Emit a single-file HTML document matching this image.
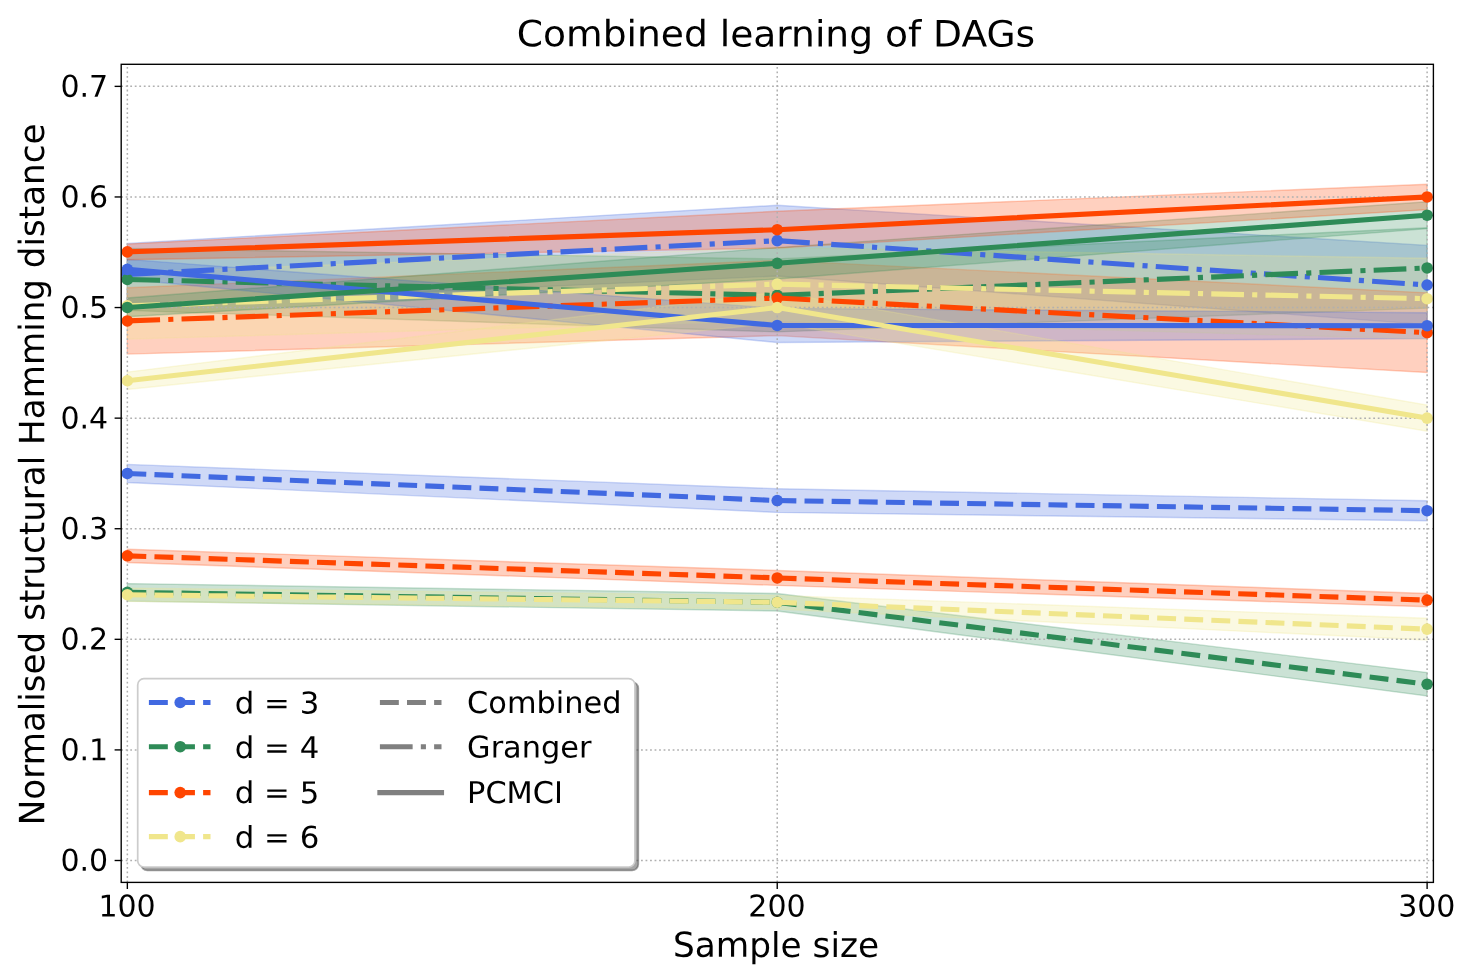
<!DOCTYPE html>
<html lang="en"><head><meta charset="utf-8"><title>Combined learning of DAGs</title>
<style>html,body{margin:0;padding:0;background:#fff;}body{width:1476px;height:976px;overflow:hidden;}svg{display:block;}text{font-family:"DejaVu Sans","Liberation Sans",sans-serif;fill:#000;}</style></head><body>
<svg width="1476" height="976" viewBox="0 0 1476 976">
<rect width="1476" height="976" fill="#fff"/>
<defs><clipPath id="ax"><rect x="121.2" y="64.3" width="1312.20" height="818.10"/></clipPath></defs>
<g clip-path="url(#ax)">
<polygon points="127.3,464.4 777.2,488.7 1427.1,500.8 1427.1,520.7 777.2,512.4 127.3,482.5" fill="#4169e1" fill-opacity="0.25" stroke="#4169e1" stroke-opacity="0.25" stroke-width="1.4" stroke-linejoin="miter"/>
<polygon points="127.3,583.6 777.2,593.5 1427.1,672.5 1427.1,695.9 777.2,611.0 127.3,601.1" fill="#2e8b57" fill-opacity="0.25" stroke="#2e8b57" stroke-opacity="0.25" stroke-width="1.4" stroke-linejoin="miter"/>
<polygon points="127.3,549.2 777.2,570.5 1427.1,593.5 1427.1,606.8 777.2,585.4 127.3,562.5" fill="#ff4500" fill-opacity="0.25" stroke="#ff4500" stroke-opacity="0.25" stroke-width="1.4" stroke-linejoin="miter"/>
<polygon points="127.3,588.1 777.2,595.4 1427.1,618.3 1427.1,640.0 777.2,609.1 127.3,601.4" fill="#f0e68c" fill-opacity="0.25" stroke="#f0e68c" stroke-opacity="0.25" stroke-width="1.4" stroke-linejoin="miter"/>
<polygon points="127.3,243.4 777.2,205.3 1427.1,245.4 1427.1,324.6 777.2,276.0 127.3,305.3" fill="#4169e1" fill-opacity="0.25" stroke="#4169e1" stroke-opacity="0.25" stroke-width="1.4" stroke-linejoin="miter"/>
<polygon points="127.3,248.5 777.2,258.9 1427.1,227.8 1427.1,308.1 777.2,331.9 127.3,310.4" fill="#2e8b57" fill-opacity="0.25" stroke="#2e8b57" stroke-opacity="0.25" stroke-width="1.4" stroke-linejoin="miter"/>
<polygon points="127.3,287.8 777.2,260.4 1427.1,292.8 1427.1,372.5 777.2,335.6 127.3,354.1" fill="#ff4500" fill-opacity="0.25" stroke="#ff4500" stroke-opacity="0.25" stroke-width="1.4" stroke-linejoin="miter"/>
<polygon points="127.3,272.7 777.2,247.6 1427.1,258.3 1427.1,339.1 777.2,320.6 127.3,339.1" fill="#f0e68c" fill-opacity="0.25" stroke="#f0e68c" stroke-opacity="0.25" stroke-width="1.4" stroke-linejoin="miter"/>
<polygon points="127.3,259.4 777.2,308.4 1427.1,312.7 1427.1,338.6 777.2,342.5 127.3,279.3" fill="#4169e1" fill-opacity="0.25" stroke="#4169e1" stroke-opacity="0.25" stroke-width="1.4" stroke-linejoin="miter"/>
<polygon points="127.3,298.0 777.2,247.6 1427.1,201.7 1427.1,228.7 777.2,279.0 127.3,316.8" fill="#2e8b57" fill-opacity="0.25" stroke="#2e8b57" stroke-opacity="0.25" stroke-width="1.4" stroke-linejoin="miter"/>
<polygon points="127.3,244.1 777.2,211.3 1427.1,184.2 1427.1,209.7 777.2,248.1 127.3,259.8" fill="#ff4500" fill-opacity="0.25" stroke="#ff4500" stroke-opacity="0.25" stroke-width="1.4" stroke-linejoin="miter"/>
<polygon points="127.3,372.1 777.2,292.1 1427.1,405.1 1427.1,431.2 777.2,323.0 127.3,389.4" fill="#f0e68c" fill-opacity="0.25" stroke="#f0e68c" stroke-opacity="0.25" stroke-width="1.4" stroke-linejoin="miter"/>
</g>
<g stroke="#b0b0b0" stroke-width="1.5" stroke-dasharray="1.8 2.72" fill="none">
<path d="M127.35 882.4V64.3"/>
<path d="M777.23 882.4V64.3"/>
<path d="M1427.11 882.4V64.3"/>
<path d="M121.2 860.50H1433.4"/>
<path d="M121.2 749.91H1433.4"/>
<path d="M121.2 639.32H1433.4"/>
<path d="M121.2 528.73H1433.4"/>
<path d="M121.2 418.14H1433.4"/>
<path d="M121.2 307.55H1433.4"/>
<path d="M121.2 196.96H1433.4"/>
<path d="M121.2 86.37H1433.4"/>
</g>
<g clip-path="url(#ax)" fill="none">
<path d="M127.35 473.44 L777.23 500.53 L1427.11 510.70" stroke="#4169e1" stroke-width="5.13" stroke-linejoin="round" stroke-dasharray="18.926 8.184" stroke-linecap="butt"/>
<circle cx="127.35" cy="473.44" r="5.8" fill="#4169e1"/>
<circle cx="777.23" cy="500.53" r="5.8" fill="#4169e1"/>
<circle cx="1427.11" cy="510.70" r="5.8" fill="#4169e1"/>
<path d="M127.35 592.32 L777.23 602.27 L1427.11 684.22" stroke="#2e8b57" stroke-width="5.13" stroke-linejoin="round" stroke-dasharray="18.926 8.184" stroke-linecap="butt"/>
<circle cx="127.35" cy="592.32" r="5.8" fill="#2e8b57"/>
<circle cx="777.23" cy="602.27" r="5.8" fill="#2e8b57"/>
<circle cx="1427.11" cy="684.22" r="5.8" fill="#2e8b57"/>
<path d="M127.35 555.82 L777.23 577.94 L1427.11 600.17" stroke="#ff4500" stroke-width="5.13" stroke-linejoin="round" stroke-dasharray="18.926 8.184" stroke-linecap="butt"/>
<circle cx="127.35" cy="555.82" r="5.8" fill="#ff4500"/>
<circle cx="777.23" cy="577.94" r="5.8" fill="#ff4500"/>
<circle cx="1427.11" cy="600.17" r="5.8" fill="#ff4500"/>
<path d="M127.35 594.75 L777.23 602.27 L1427.11 629.15" stroke="#f0e68c" stroke-width="5.13" stroke-linejoin="round" stroke-dasharray="18.926 8.184" stroke-linecap="butt"/>
<circle cx="127.35" cy="594.75" r="5.8" fill="#f0e68c"/>
<circle cx="777.23" cy="602.27" r="5.8" fill="#f0e68c"/>
<circle cx="1427.11" cy="629.15" r="5.8" fill="#f0e68c"/>
<path d="M127.35 274.37 L777.23 240.64 L1427.11 284.99" stroke="#4169e1" stroke-width="5.13" stroke-linejoin="round" stroke-dasharray="32.736 8.184 5.115 8.184" stroke-linecap="butt"/>
<circle cx="127.35" cy="274.37" r="5.8" fill="#4169e1"/>
<circle cx="777.23" cy="240.64" r="5.8" fill="#4169e1"/>
<circle cx="1427.11" cy="284.99" r="5.8" fill="#4169e1"/>
<path d="M127.35 279.46 L777.23 295.39 L1427.11 267.96" stroke="#2e8b57" stroke-width="5.13" stroke-linejoin="round" stroke-dasharray="32.736 8.184 5.115 8.184" stroke-linecap="butt"/>
<circle cx="127.35" cy="279.46" r="5.8" fill="#2e8b57"/>
<circle cx="777.23" cy="295.39" r="5.8" fill="#2e8b57"/>
<circle cx="1427.11" cy="267.96" r="5.8" fill="#2e8b57"/>
<path d="M127.35 320.93 L777.23 298.04 L1427.11 332.65" stroke="#ff4500" stroke-width="5.13" stroke-linejoin="round" stroke-dasharray="32.736 8.184 5.115 8.184" stroke-linecap="butt"/>
<circle cx="127.35" cy="320.93" r="5.8" fill="#ff4500"/>
<circle cx="777.23" cy="298.04" r="5.8" fill="#ff4500"/>
<circle cx="1427.11" cy="332.65" r="5.8" fill="#ff4500"/>
<path d="M127.35 305.89 L777.23 284.10 L1427.11 298.70" stroke="#f0e68c" stroke-width="5.13" stroke-linejoin="round" stroke-dasharray="32.736 8.184 5.115 8.184" stroke-linecap="butt"/>
<circle cx="127.35" cy="305.89" r="5.8" fill="#f0e68c"/>
<circle cx="777.23" cy="284.10" r="5.8" fill="#f0e68c"/>
<circle cx="1427.11" cy="298.70" r="5.8" fill="#f0e68c"/>
<path d="M127.35 269.40 L777.23 325.47 L1427.11 325.69" stroke="#4169e1" stroke-width="5.13" stroke-linejoin="round" stroke-linecap="square"/>
<circle cx="127.35" cy="269.40" r="5.8" fill="#4169e1"/>
<circle cx="777.23" cy="325.47" r="5.8" fill="#4169e1"/>
<circle cx="1427.11" cy="325.69" r="5.8" fill="#4169e1"/>
<path d="M127.35 307.44 L777.23 263.31 L1427.11 215.21" stroke="#2e8b57" stroke-width="5.13" stroke-linejoin="round" stroke-linecap="square"/>
<circle cx="127.35" cy="307.44" r="5.8" fill="#2e8b57"/>
<circle cx="777.23" cy="263.31" r="5.8" fill="#2e8b57"/>
<circle cx="1427.11" cy="215.21" r="5.8" fill="#2e8b57"/>
<path d="M127.35 251.92 L777.23 229.69 L1427.11 196.96" stroke="#ff4500" stroke-width="5.13" stroke-linejoin="round" stroke-linecap="square"/>
<circle cx="127.35" cy="251.92" r="5.8" fill="#ff4500"/>
<circle cx="777.23" cy="229.69" r="5.8" fill="#ff4500"/>
<circle cx="1427.11" cy="196.96" r="5.8" fill="#ff4500"/>
<path d="M127.35 380.76 L777.23 307.55 L1427.11 418.14" stroke="#f0e68c" stroke-width="5.13" stroke-linejoin="round" stroke-linecap="square"/>
<circle cx="127.35" cy="380.76" r="5.8" fill="#f0e68c"/>
<circle cx="777.23" cy="307.55" r="5.8" fill="#f0e68c"/>
<circle cx="1427.11" cy="418.14" r="5.8" fill="#f0e68c"/>
</g>
<rect x="121.2" y="64.3" width="1312.20" height="818.10" fill="none" stroke="#000" stroke-width="1.37"/>
<g stroke="#000" stroke-width="1.37">
<path d="M127.35 882.4v6.6"/>
<path d="M777.23 882.4v6.6"/>
<path d="M1427.11 882.4v6.6"/>
<path d="M121.2 860.50h-6.6"/>
<path d="M121.2 749.91h-6.6"/>
<path d="M121.2 639.32h-6.6"/>
<path d="M121.2 528.73h-6.6"/>
<path d="M121.2 418.14h-6.6"/>
<path d="M121.2 307.55h-6.6"/>
<path d="M121.2 196.96h-6.6"/>
<path d="M121.2 86.37h-6.6"/>
</g>
<text transform="translate(127.05 916.55) rotate(0.03) scale(1 1.0)" font-size="30.0" text-anchor="middle">100</text>
<text transform="translate(776.93 916.55) rotate(0.03) scale(1 1.0)" font-size="30.0" text-anchor="middle">200</text>
<text transform="translate(1426.81 916.55) rotate(0.03) scale(1 1.0)" font-size="30.0" text-anchor="middle">300</text>
<text transform="translate(108.1 870.78) rotate(0.03) scale(1 1.0)" font-size="30.0" text-anchor="end">0.0</text>
<text transform="translate(108.1 760.19) rotate(0.03) scale(1 1.0)" font-size="30.0" text-anchor="end">0.1</text>
<text transform="translate(108.1 649.60) rotate(0.03) scale(1 1.0)" font-size="30.0" text-anchor="end">0.2</text>
<text transform="translate(108.1 539.01) rotate(0.03) scale(1 1.0)" font-size="30.0" text-anchor="end">0.3</text>
<text transform="translate(108.1 428.42) rotate(0.03) scale(1 1.0)" font-size="30.0" text-anchor="end">0.4</text>
<text transform="translate(108.1 317.83) rotate(0.03) scale(1 1.0)" font-size="30.0" text-anchor="end">0.5</text>
<text transform="translate(108.1 207.24) rotate(0.03) scale(1 1.0)" font-size="30.0" text-anchor="end">0.6</text>
<text transform="translate(108.1 96.65) rotate(0.03) scale(1 1.0)" font-size="30.0" text-anchor="end">0.7</text>
<text transform="translate(775.98 46.4) rotate(0.03) scale(1 0.963)" font-size="37.59" text-anchor="middle">Combined learning of DAGs</text>
<text transform="translate(776.00 956.9) rotate(0.03) scale(1 1.0)" font-size="34.33" text-anchor="middle">Sample size</text>
<text transform="translate(44.15 474.35) rotate(-90.03) scale(1 1.02)" font-size="34.15" text-anchor="middle">Normalised structural Hamming distance</text>
<rect x="141.1" y="682.1" width="497.20" height="188.30" rx="6.2" fill="#4d4d4d" fill-opacity="0.5" stroke="#4d4d4d" stroke-opacity="0.5" stroke-width="1.7"/>
<rect x="137.7" y="678.7" width="497.20" height="188.30" rx="6.2" fill="#fff" stroke="#ccc" stroke-width="1.71"/>
<path d="M148.9 702.5H210.5" stroke="#4169e1" stroke-width="5.13" stroke-dasharray="18.926 8.184" fill="none"/>
<circle cx="180.20" cy="702.5" r="5.8" fill="#4169e1"/>
<text transform="translate(234.8 713.50) rotate(0.03) scale(1 0.976)" font-size="30.78">d = 3</text>
<path d="M148.9 746.7H210.5" stroke="#2e8b57" stroke-width="5.13" stroke-dasharray="18.926 8.184" fill="none"/>
<circle cx="180.20" cy="746.7" r="5.8" fill="#2e8b57"/>
<text transform="translate(234.8 757.95) rotate(0.03) scale(1 0.976)" font-size="30.78">d = 4</text>
<path d="M148.9 792.6H210.5" stroke="#ff4500" stroke-width="5.13" stroke-dasharray="18.926 8.184" fill="none"/>
<circle cx="180.20" cy="792.6" r="5.8" fill="#ff4500"/>
<text transform="translate(234.8 803.10) rotate(0.03) scale(1 0.976)" font-size="30.78">d = 5</text>
<path d="M148.9 836.65H210.5" stroke="#f0e68c" stroke-width="5.13" stroke-dasharray="18.926 8.184" fill="none"/>
<circle cx="180.20" cy="836.65" r="5.8" fill="#f0e68c"/>
<text transform="translate(234.8 847.65) rotate(0.03) scale(1 0.976)" font-size="30.78">d = 6</text>
<path d="M379.9 702.5H441.5" stroke="#808080" stroke-width="5.13" fill="none" stroke-dasharray="18.926 8.184"/>
<text transform="translate(467.1 713.00) rotate(0.03) scale(0.987 0.975)" font-size="30.78">Combined</text>
<path d="M379.9 746.7H441.5" stroke="#808080" stroke-width="5.13" fill="none" stroke-dasharray="32.736 8.184 5.115 8.184"/>
<text transform="translate(467.1 757.45) rotate(0.03) scale(0.987 0.975)" font-size="30.78">Granger</text>
<path d="M379.9 792.6H441.5" stroke="#808080" stroke-width="5.13" fill="none" stroke-linecap="square"/>
<text transform="translate(467.1 803.00) rotate(0.03) scale(0.987 0.975)" font-size="30.78">PCMCI</text>
</svg></body></html>
